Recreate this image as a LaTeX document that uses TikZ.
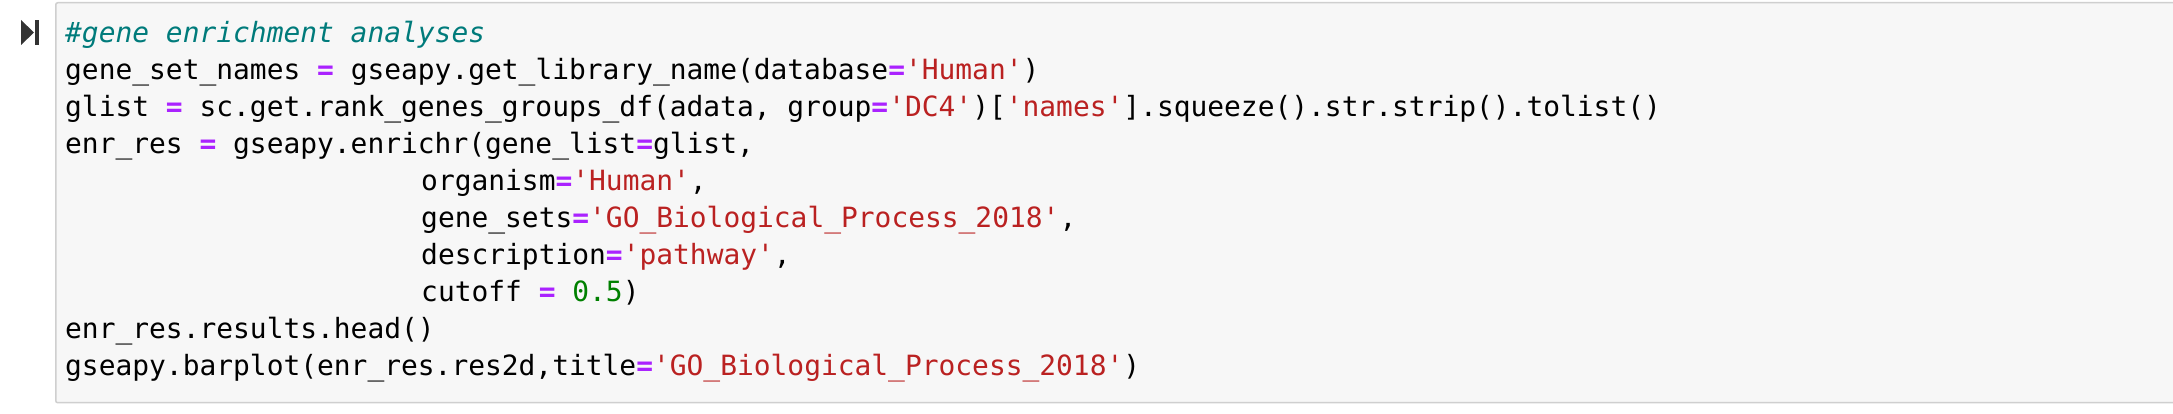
\documentclass[tikz,border=0pt]{standalone}
\usepackage{fontspec}
\newfontfamily\code{DejaVu Sans Mono}
\definecolor{cmt}{HTML}{007B7B}
\definecolor{op}{HTML}{AA22FF}
\definecolor{str}{HTML}{BA2121}
\definecolor{num}{HTML}{008000}
\definecolor{bg}{HTML}{F7F7F7}
\definecolor{bd}{HTML}{CFCFCF}
\newcommand{\eq}{\textcolor{op}{\bfseries =}}
\newcommand{\st}[1]{\textcolor{str}{#1}}
\begin{document}
\begin{tikzpicture}[x=1pt,y=1pt,
  codeline/.style={anchor=base west,inner sep=0pt,font=\code\fontsize{27.9}{32}\selectfont,text=black}]
\useasboundingbox (0,0) rectangle (2173,414);
\node[draw=bd,fill=bg,line width=1.5pt,rounded corners=2pt,minimum width=2140pt,minimum height=400pt,anchor=north west,inner sep=0pt] (cell) at (55,412) {};
\fill[black!80] (21,394) -- (21,369) -- (34,381.5) -- cycle;
\fill[black!80] (35,394) rectangle (39,369);
\def\L{65}\def\I{421}
\node[codeline] (l1) at (\L,371) {\textcolor{cmt}{\itshape \#gene enrichment analyses}};
\node[codeline] (l2) at (\L,334) {gene\_set\_names \eq{} gseapy.get\_library\_name(database\eq\st{'Human'})};
\node[codeline] (l3) at (\L,297) {glist \eq{} sc.get.rank\_genes\_groups\_df(adata, group\eq\st{'DC4'})[\st{'names'}].squeeze().str.strip().tolist()};
\node[codeline] (l4) at (\L,260) {enr\_res \eq{} gseapy.enrichr(gene\_list\eq glist,};
\node[codeline] (l5) at (\I,223) {organism\eq\st{'Human'},};
\node[codeline] (l6) at (\I,186) {gene\_sets\eq\st{'GO\_Biological\_Process\_2018'},};
\node[codeline] (l7) at (\I,149) {description\eq\st{'pathway'},};
\node[codeline] (l8) at (\I,112) {cutoff \eq{} \textcolor{num}{0.5})};
\node[codeline] (l9) at (\L,75) {enr\_res.results.head()};
\node[codeline] (l10) at (\L,38) {gseapy.barplot(enr\_res.res2d,title\eq\st{'GO\_Biological\_Process\_2018'})};
\end{tikzpicture}
\end{document}
